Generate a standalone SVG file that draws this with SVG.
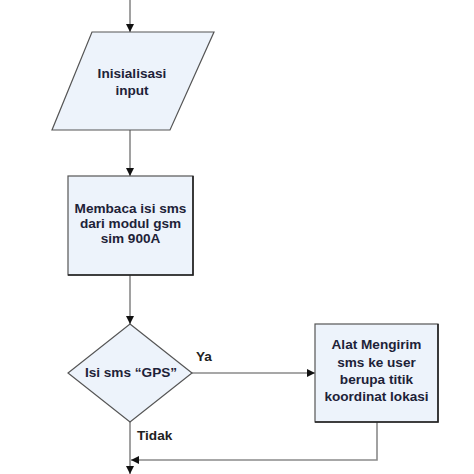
<svg xmlns="http://www.w3.org/2000/svg" width="474" height="474" viewBox="0 0 474 474">
<style>
.n{fill:#edf3fb;stroke:#555;stroke-width:1.2}
.t{font-family:"Liberation Sans",Arial,sans-serif;font-size:13.6px;font-weight:bold;fill:#1d2238;text-anchor:middle}
.l{font-family:"Liberation Sans",Arial,sans-serif;font-size:13.6px;font-weight:bold;fill:#222}
.c{fill:none;stroke:#8a8a8a;stroke-width:1.6}
</style>
<defs>
<marker id="a" viewBox="0 0 10 10" refX="10" refY="5" markerWidth="9" markerHeight="8" orient="auto" markerUnits="userSpaceOnUse">
<path d="M0,0 L10,5 L0,10 Z" fill="#111"/>
</marker>
</defs>
<rect width="474" height="474" fill="#fff"/>
<g id="connectors">
<path class="c" d="M130,0 V32" marker-end="url(#a)"/>
<path class="c" d="M130,130 V176" marker-end="url(#a)"/>
<path class="c" d="M130,275 V324" marker-end="url(#a)"/>
<path class="c" d="M192,373 H315" marker-end="url(#a)"/>
<path class="c" d="M377,422 V460 H131" marker-end="url(#a)"/>
<path class="c" d="M130,422 V474" marker-end="url(#a)"/>
<text class="l" x="196" y="361">Ya</text>
<text class="l" x="137" y="440">Tidak</text>
</g>
<g id="input">
<polygon class="n" points="92,32 214,32 170,130 52,130"/>
<text class="t" x="132" y="78">Inisialisasi</text>
<text class="t" x="132" y="95">input</text>
</g>
<g id="baca">
<rect class="n" x="68" y="176" width="125" height="99"/>
<path d="M68,275 H193 V176" fill="none" stroke="#222" stroke-width="1.6"/>
<text class="t" x="130.5" y="213">Membaca isi sms</text>
<text class="t" x="130.5" y="228">dari modul gsm</text>
<text class="t" x="130.5" y="243">sim 900A</text>
</g>
<g id="cek">
<polygon class="n" points="130,324 192,373 130,422 68,373"/>
<text class="t" x="131" y="377">Isi sms “GPS”</text>
</g>
<g id="kirim">
<rect class="n" x="315" y="324" width="123" height="98"/>
<path d="M315,422 H438 V324" fill="none" stroke="#222" stroke-width="1.6"/>
<text class="t" x="376.5" y="349">Alat Mengirim</text>
<text class="t" x="376.5" y="367">sms ke user</text>
<text class="t" x="376.5" y="384">berupa titik</text>
<text class="t" x="376.5" y="401">koordinat lokasi</text>
</g>
</svg>
